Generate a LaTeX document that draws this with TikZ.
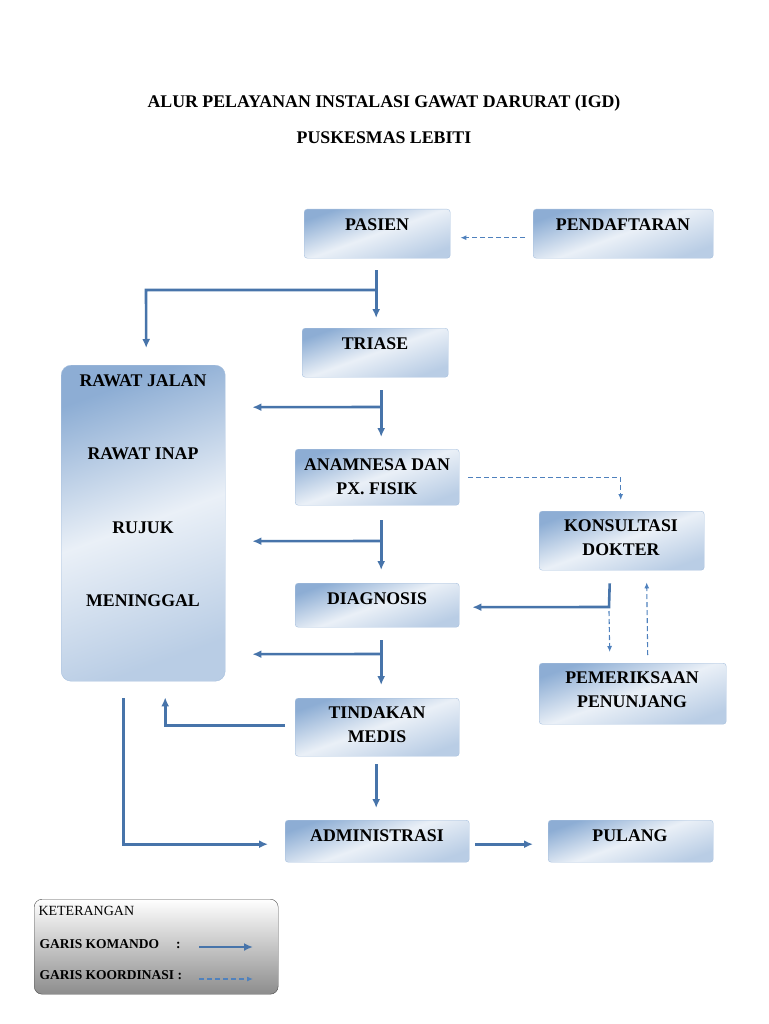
\documentclass[tikz,border=0pt]{standalone}
\usepackage{fontspec}
\setmainfont{Liberation Serif}
\usetikzlibrary{calc,arrows.meta}
\definecolor{lineblue}{HTML}{4F81BD}
\begin{document}
\begin{tikzpicture}[x=1pt,y=-1pt,
		box/.style={draw=lineblue!50, rounded corners=3pt, top color=lineblue!65!white, bottom color=lineblue!40!white, middle color=lineblue!12!white, shading angle=20, anchor=north west, inner sep=0pt},
		lbl/.style={font=\bfseries\fontsize{17.8}{24}\selectfont, align=center},
		cmd/.style={-{Latex[length=9pt,width=8pt]}, line width=2.6pt, draw=lineblue!90!black},
		coord/.style={-{Latex[length=6pt,width=5pt]}, line width=1.1pt, dash pattern=on 5pt off 3pt, draw=lineblue}
		]
		\useasboundingbox (0,0) rectangle (768,1024);
		
		% Title
		\node[lbl] (title) at (384,103) {ALUR PELAYANAN INSTALASI GAWAT DARURAT (IGD)};
		\node[lbl] (subtitle) at (384,138) {PUSKESMAS LEBITI};
		
		% Nodes
		\node[box, minimum width=146, minimum height=49] (pasien) at (304,209) {};
		\node[box, minimum width=180, minimum height=49] (daftar) at (533,209) {};
		\node[box, minimum width=146, minimum height=49] (triase) at (302,328) {};
		\node[box, minimum width=164, minimum height=316, rounded corners=10pt] (rawat) at (61,365) {};
		\node[box, minimum width=164, minimum height=56] (anamnesa) at (295,449) {};
		\node[box, minimum width=165, minimum height=59] (konsul) at (539,511) {};
		\node[box, minimum width=164, minimum height=44] (diagnosis) at (295,583) {};
		\node[box, minimum width=187, minimum height=61] (periksa) at (539,663) {};
		\node[box, minimum width=164, minimum height=58] (tindakan) at (295,698) {};
		\node[box, minimum width=184, minimum height=42] (admin) at (285,820) {};
		\node[box, minimum width=165, minimum height=42] (pulang) at (548,820) {};
		
		% Labels
		\node[lbl] at (377,225) {PASIEN};
		\node[lbl] at (623,225) {PENDAFTARAN};
		\node[lbl] at (375,344) {TRIASE};
		\node[lbl] at (143,381) {RAWAT JALAN};
		\node[lbl] at (143,454) {RAWAT INAP};
		\node[lbl] at (143,528) {RUJUK};
		\node[lbl] at (143,601) {MENINGGAL};
		\node[lbl] at (377,477) {ANAMNESA DAN\\PX. FISIK};
		\node[lbl] at (621,538) {KONSULTASI\\DOKTER};
		\node[lbl] at (377,599) {DIAGNOSIS};
		\node[lbl] at (632,690) {PEMERIKSAAN\\PENUNJANG};
		\node[lbl] at (377,725) {TINDAKAN\\MEDIS};
		\node[lbl] at (377,836) {ADMINISTRASI};
		\node[lbl] at (630,836) {PULANG};
		
		% Arrows
		\draw[coord] ($(daftar.west)+(-8,4)$) -- ($(pasien.east)+(10,4)$);
		\draw[cmd] ($(pasien.south)+(-1,12)$) -- ($(triase.north)+(1,-10)$);
		\draw[cmd] (377,290) -- (146,290) -- ($(rawat.north)+(3,-17)$);
		\draw[cmd] ($(triase.south)+(6,13)$) -- ($(anamnesa.north)+(4,-12)$);
		\draw[cmd] (382,407) -- ($(rawat.east)+(27,-116)$);
		\draw[coord] ($(anamnesa.east)+(9,0)$) -| ($(konsul.north)+(-1,-11)$);
		\draw[cmd] ($(anamnesa.south)+(4,15)$) -- ($(diagnosis.north)+(4,-13)$);
		\draw[cmd] (382,541) -- ($(rawat.east)+(27,18)$);
		\draw[cmd] ($(diagnosis.south)+(4,13)$) -- ($(tindakan.north)+(4,-13)$);
		\draw[cmd] (382,654) -- ($(rawat.east)+(27,131)$);
		\draw[cmd] ($(konsul.south)+(-12,13)$) -- (609,607) -- ($(diagnosis.east)+(13,2)$);
		\draw[coord] (609,611) -- ($(periksa.north)+(-23,-11)$);
		\draw[coord] ($(periksa.north)+(15,-8)$) -- ($(konsul.south)+(25,12)$);
		\draw[cmd] ($(tindakan.west)+(-10,-2)$) -| ($(rawat.south)+(22,16)$);
		\draw[cmd] ($(tindakan.south)+(-1,8)$) -- ($(admin.north)+(-1,-12)$);
		\draw[cmd] ($(rawat.south)+(-20,17)$) |- ($(admin.west)+(-17,3)$);
		\draw[cmd] ($(admin.east)+(6,3)$) -- ($(pulang.west)+(-15,3)$);
		
		% Legend
		\node[draw=black!70, rounded corners=8pt, top color=white, bottom color=black!45, anchor=north west, minimum width=244, minimum height=95] (legend) at (34,899) {};
		\node[anchor=west, font=\fontsize{14}{16}\selectfont] at (35,911) {KETERANGAN};
		\node[anchor=west, font=\bfseries\fontsize{13.5}{16}\selectfont] at (36,944) {GARIS KOMANDO\quad\ :};
		\node[anchor=west, font=\bfseries\fontsize{13.5}{16}\selectfont] at (36,975) {GARIS KOORDINASI :};
		\coordinate (k1) at (199,947);
		\coordinate (k2) at (253,947);
		\coordinate (c1) at (199,979);
		\coordinate (c2) at (253,979);
		\draw[cmd, line width=1.8pt] (k1) -- (k2);
		\draw[coord] (c1) -- (c2);
	\end{tikzpicture}
\end{document}
